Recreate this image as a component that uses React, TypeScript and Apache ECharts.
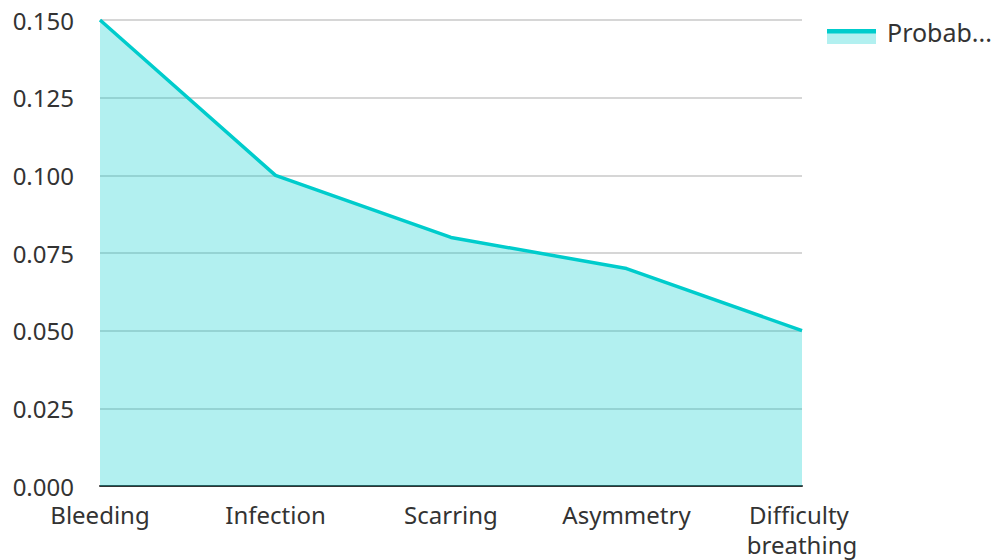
import React, { useEffect, useRef } from "react";
import * as echarts from "echarts";

const categories = ["Bleeding", "Infection", "Scarring", "Asymmetry", "Difficulty breathing"];
const probabilities = [0.15, 0.1, 0.08, 0.07, 0.05];
const seriesName = "Probability";

const LINE = "#00cccc";

export default function App() {
  const ref = useRef<HTMLDivElement>(null);
  useEffect(() => {
    const chart = echarts.init(ref.current!, null, { renderer: "svg" });
    chart.setOption({
      animation: false,
      textStyle: { fontFamily: "Noto Sans" },
      grid: { left: 100, right: 190, top: 20, bottom: 74 },
      legend: {
        left: 827,
        top: 19,
        padding: 0,
        icon: "rect",
        itemWidth: 49,
        itemHeight: 15,
        itemGap: 10,
        itemStyle: { opacity: 0 },
        formatter: (n: string) => (n.length > 6 ? n.slice(0, 6) + "..." : n),
        textStyle: {
          fontSize: 25,
          color: "#333",
          padding: [0, 0, 0, 6],
        },
        data: [seriesName],
      },
      graphic: [
        { type: "rect", x: 827, y: 29, shape: { width: 49, height: 15 }, style: { fill: "rgba(0,204,204,0.3)" } },
        { type: "rect", x: 827, y: 29, shape: { width: 49, height: 4.5 }, style: { fill: LINE } },
      ],
      xAxis: {
        type: "category",
        data: categories,
        boundaryGap: false,
        axisLine: { lineStyle: { color: "#333", width: 2 } },
        axisTick: { show: false },
        axisLabel: { fontSize: 24, color: "#333", margin: 13, lineHeight: 30, width: 150, overflow: "break", interval: 0 },
        splitLine: { show: false },
      },
      yAxis: {
        type: "value",
        min: 0,
        max: 0.15,
        interval: 0.025,
        axisLine: { show: false },
        axisTick: { show: false },
        axisLabel: { fontSize: 24, color: "#333", margin: 26, formatter: (v: number) => v.toFixed(3) },
        splitLine: { lineStyle: { color: "#c8c8c8", width: 1.5 } },
      },
      series: [
        {
          name: seriesName,
          type: "line",
          data: probabilities,
          symbol: "none",
          lineStyle: { color: LINE, width: 3.5 },
          itemStyle: { color: LINE },
          areaStyle: { color: LINE, opacity: 0.3 },
        },
      ],
    });
    return () => chart.dispose();
  }, []);
  return <div ref={ref} style={{ position: "absolute", left: 0, top: 0, width: 992, height: 560 }} />;
}
